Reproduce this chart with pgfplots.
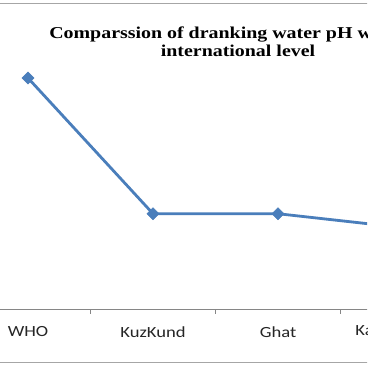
\documentclass[border=0pt]{standalone}
\usepackage{fontspec}
\usepackage{pgfplots}
\pgfplotsset{compat=1.18}
\newfontfamily\titlefont[FakeStretch=1.2]{Liberation Serif}
\newfontfamily\tickfont[FakeStretch=1.2]{Carlito}
\definecolor{excelblue}{HTML}{4A7EBB}
\definecolor{axgray}{HTML}{868686}
\begin{document}
\begin{tikzpicture}[x=1pt,y=1pt]
\useasboundingbox (0,0) rectangle (367,367);
\clip (0,0) rectangle (367,367);
\fill[white] (0,0) rectangle (367,367);
\draw[color=black!35, line width=1pt] (-5,363) -- (372,363);
\draw[color=black!35, line width=1pt] (-5,4) -- (372,4);
\begin{axis}[
  at={(-34.5pt,57pt)}, anchor=south west,
  scale only axis, width=500pt, height=266.8pt,
  xmin=-0.5, xmax=3.5, ymin=6.5, ymax=8.8,
  axis x line=bottom, axis y line=none,
  axis line style={axgray, line width=1pt, -},
  xtick={0,1,2,3},
  xticklabels={WHO,KuzKund,Ghat,Kalam Valley},
  major tick length=0pt,
  minor xtick={0.5,1.5,2.5},
  minor tick length=4pt,
  tick align=outside,
  minor tick style={axgray, line width=0.8pt},
  xticklabel style={font=\tickfont\fontsize{15.5}{18}\selectfont, text=black!85, anchor=center, yshift=-21.7pt},
  clip=false,
]
\addplot[color=excelblue, line width=2.8pt, mark=square*, mark size=4.3pt, mark options={rotate=45, fill=excelblue, draw=excelblue, line width=0.5pt}]
  coordinates {(0,8.5) (1,7.33) (2,7.33) (3,7.21)};
\end{axis}
\node[font=\titlefont\bfseries\fontsize{16.6}{18}\selectfont, align=center] at (238,325.5) {Comparssion of dranking water pH with the\\international level};
\end{tikzpicture}
\end{document}
